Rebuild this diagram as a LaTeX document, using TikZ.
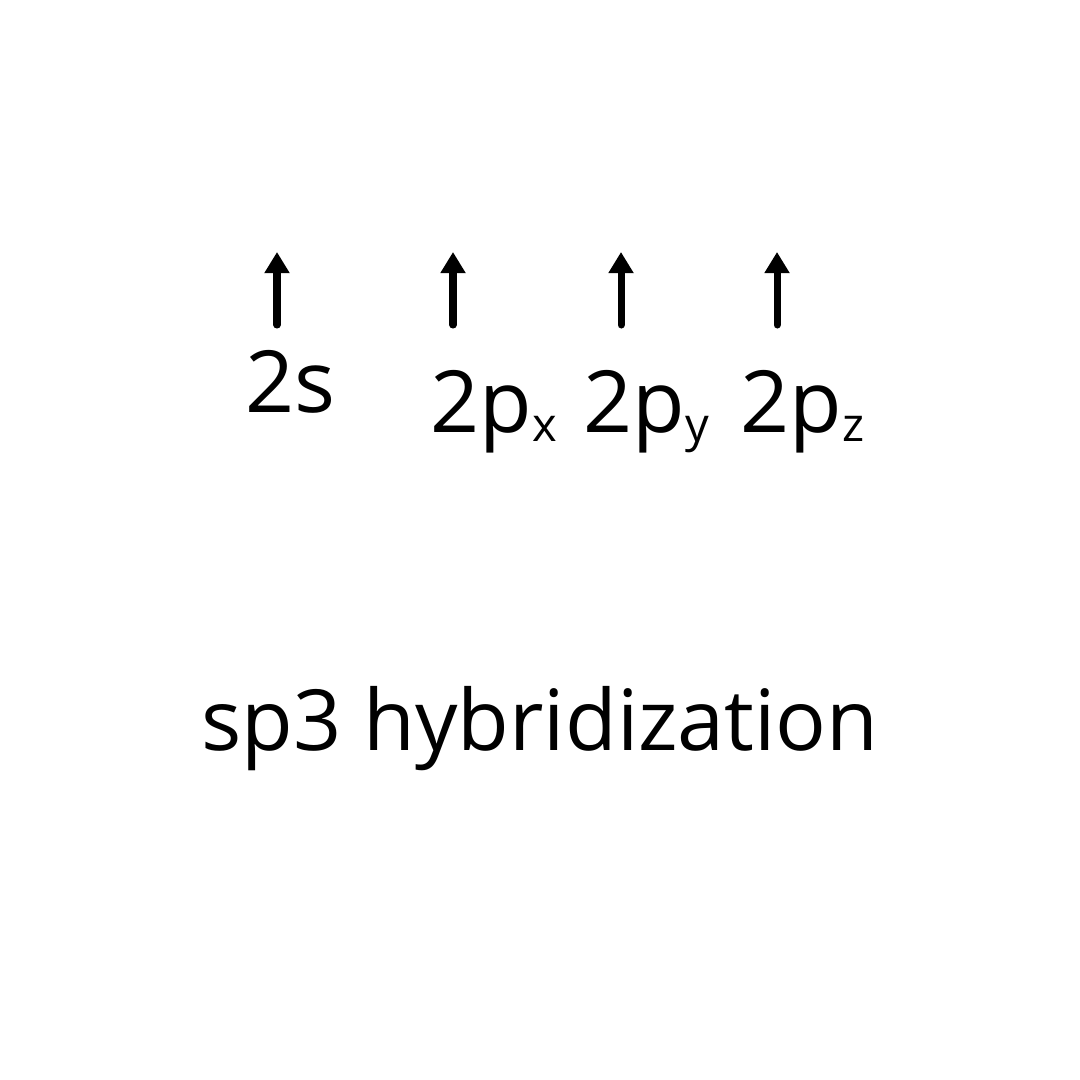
\documentclass[tikz,border=0pt]{standalone}
\usepackage{fontspec}
\setmainfont{Open Sans}
\usetikzlibrary{arrows.meta}
\newcommand{\orbsub}[1]{\raisebox{-2.3pt}{\fontsize{13.4}{14}\selectfont #1}}
\tikzset{
    spin/.style={line width=2pt,line cap=round,-{Triangle[width=6.8pt,length=6pt]}},
    orb/.style={inner sep=0pt,anchor=base west,font=\fontsize{24.4}{28}\selectfont},
}

\begin{document}
\begin{tikzpicture}[x=0.01cm,y=-0.01cm]
\useasboundingbox (0,0) rectangle (1080,1080);
\node[orb] (s2) at (245,413) {2s};
\node[orb] (px) at (430,433) {2p\orbsub{x}};
\node[orb] (py) at (583,433) {2p\orbsub{y}};
\node[orb] (pz) at (740,433) {2p\orbsub{z}};
\coordinate (s2e) at (277,325);
\coordinate (pxe) at (453,325);
\coordinate (pye) at (621,325);
\coordinate (pze) at (777,325);
\draw[spin] (s2e) -- ++(0,-73);
\draw[spin] (pxe) -- ++(0,-73);
\draw[spin] (pye) -- ++(0,-73);
\draw[spin] (pze) -- ++(0,-73);
\node[orb,anchor=base,font=\fontsize{24}{28}\selectfont] (title) at (540,750) {sp3 hybridization};
\end{tikzpicture}
\end{document}
